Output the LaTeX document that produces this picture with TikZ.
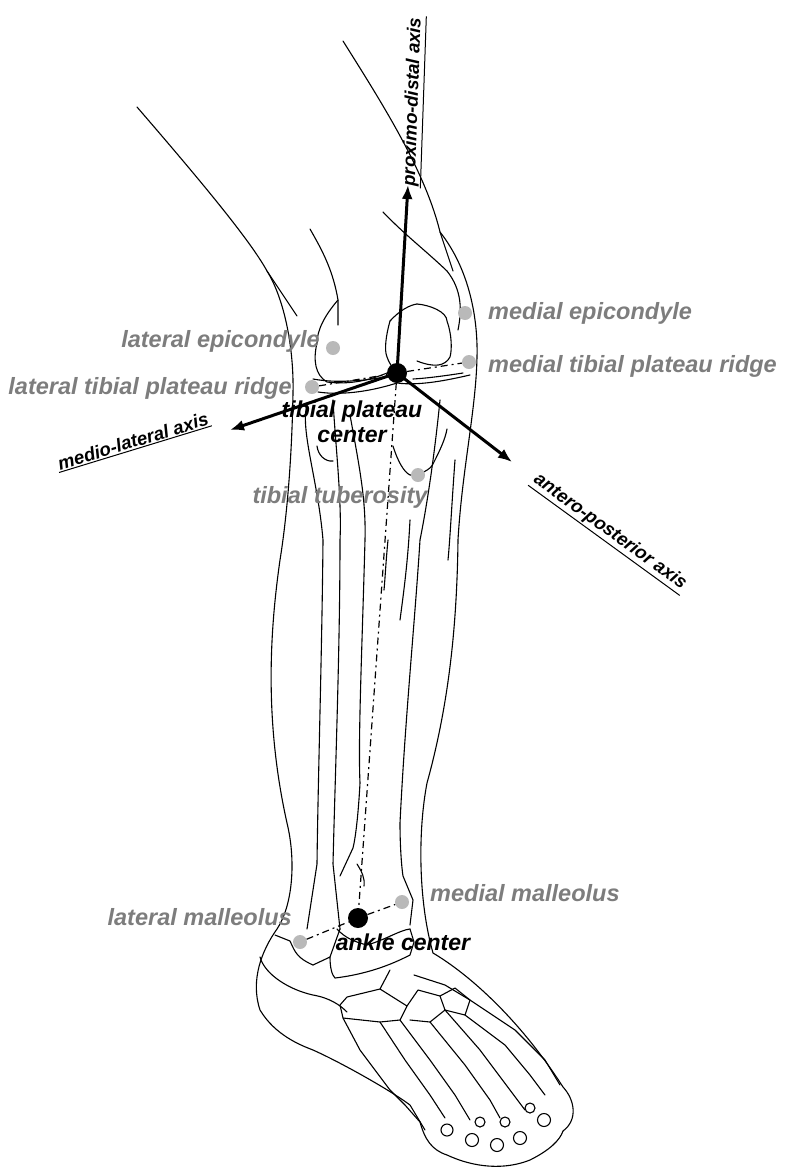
\documentclass[tikz,border=0pt]{standalone}
\usepackage{fontspec}
\setmainfont{Liberation Sans}
\usetikzlibrary{arrows.meta}
\definecolor{lbl}{RGB}{125,125,125}
\definecolor{dotg}{RGB}{185,185,185}
\tikzset{
 outl/.style={line width=1.1pt, line join=round, line cap=round},
 glabel/.style={text=lbl, font=\fontsize{23.5}{26}\selectfont\bfseries\itshape, inner sep=0pt},
 blabel/.style={text=black, font=\fontsize{23}{25}\selectfont\bfseries\itshape, inner sep=0pt, align=center},
 axlabel/.style={text=black, font=\fontsize{18.5}{20}\selectfont\bfseries\itshape, inner sep=1.5pt},
 uline/.style={line width=1pt},
 gdot/.style={circle, fill=dotg, minimum size=14pt, inner sep=0pt},
 bdot/.style={circle, fill=black, minimum size=20pt, inner sep=0pt},
 axis/.style={line width=3pt, -{Latex[length=14pt,width=11pt]}},
 dd/.style={line width=1.2pt, dash pattern=on 7pt off 4pt on 2pt off 4pt},
}
\begin{document}
\begin{tikzpicture}[x=1pt,y=-1pt]
\useasboundingbox (0,0) rectangle (785,1173);
% ---- skin outlines
\draw[outl] (137,107) .. controls (200,180) and (250,240) .. (267,271) -- (297,316);
\draw[outl] (267,271) .. controls (285,300) and (294,350) .. (293,393) .. controls (292,450) and (288,510) .. (280,560)
  .. controls (270,630) and (264,720) .. (287,823) .. controls (296,860) and (293,905) .. (277,929)
  .. controls (262,950) and (250,980) .. (260,1010) .. controls (275,1035) and (300,1045) .. (313,1050)
  .. controls (340,1062) and (390,1090) .. (410,1105) -- (425,1130);
\draw[outl] (343,41) .. controls (380,100) and (425,170) .. (440,232) -- (453,271);
\draw[outl] (440,232) .. controls (470,270) and (478,320) .. (477,357) .. controls (476,410) and (462,470) .. (458,540)
  .. controls (457,620) and (450,700) .. (427,783) .. controls (418,830) and (418,900) .. (433,953)
  .. controls (470,975) and (520,1020) .. (563,1087) .. controls (575,1100) and (578,1120) .. (563,1131);
\draw[outl] (383,212) .. controls (405,235) and (425,250) .. (447,271) .. controls (462,290) and (462,310) .. (458,330);
% knee structures
\draw[outl] (310,229) .. controls (322,250) and (333,270) .. (338,300) -- (338,325);
\draw[outl] (338,300) .. controls (325,315) and (317,330) .. (317,343) .. controls (313,360) and (315,375) .. (327,382) .. controls (350,385) and (370,380) .. (387,373);
\draw[outl] (417,304) .. controls (430,305) and (447,312) .. (447,321) .. controls (452,335) and (452,350) .. (450,357) .. controls (445,366) and (435,368) .. (417,361);
\draw[outl] (390,321) .. controls (386,335) and (384,350) .. (387,357) .. controls (390,365) and (394,370) .. (397,373);
\draw[outl] (390,321) .. controls (400,310) and (410,305) .. (417,304);
\draw[outl] (313,379) .. controls (340,384) and (370,380) .. (397,375);
\draw[outl] (413,379) .. controls (430,378) and (450,375) .. (463,373);
\draw[outl] (318,392) .. controls (345,396) and (375,390) .. (397,383) .. controls (420,386) and (448,380) .. (470,375);
% tibia & fibula
\draw[outl] (307,405) .. controls (300,430) and (318,480) .. (323,540) .. controls (322,650) and (318,780) .. (317,864) -- (307,929);
\draw[outl] (333,400) .. controls (335,440) and (342,500) .. (340,540) .. controls (340,650) and (335,780) .. (333,864) -- (340,929);
\draw[outl] (317,446) .. controls (318,455) and (325,462) .. (333,461);
\draw[outl] (350,415) .. controls (360,470) and (366,500) .. (365,540) .. controls (362,650) and (358,740) .. (360,783) .. controls (358,820) and (355,840) .. (353,848) -- (340,876);
\draw[outl] (357,864) .. controls (362,872) and (365,878) .. (364,886);
\draw[outl] (440,400) .. controls (435,450) and (428,500) .. (420,540) .. controls (415,620) and (405,720) .. (400,823) .. controls (400,850) and (402,870) .. (403,876) -- (413,900) -- (410,925);
\draw[outl] (393,446) .. controls (398,462) and (404,472) .. (410,475) .. controls (420,475) and (430,470) .. (433,464) .. controls (440,450) and (445,440) .. (447,429);
\draw[outl] (455,460) .. controls (452,500) and (450,540) .. (448,560);
\draw[outl] (410,520) .. controls (408,560) and (404,590) .. (400,620);
\draw[outl] (388,540) .. controls (386,560) and (385,580) .. (384,590);
% ankle
\draw[outl] (275,935) -- (290,941) .. controls (295,952) and (297,958) .. (313,965) -- (330,957) -- (340,929);
\draw[outl] (260,957) .. controls (265,975) and (290,990) .. (313,995) .. controls (330,998) and (340,1005) .. (347,1012);
\draw[outl] (337,929) .. controls (345,938) and (355,942) .. (367,945) .. controls (385,940) and (400,930) .. (410,929);
\draw[outl] (330,957) .. controls (330,968) and (332,975) .. (335,978) .. controls (360,975) and (385,968) .. (410,955) -- (414,942) -- (410,929);
% foot bones
\draw[outl] (347,997) -- (380,989) -- (407,1006) -- (400,1020) -- (380,1022) -- (343,1018) -- (340,1005) -- cycle;
\draw[outl] (380,989) -- (390,970);
\draw[outl] (407,1006) -- (418,990) -- (440,996) -- (445,1010) -- (430,1022) -- (410,1020);
\draw[outl] (440,996) -- (455,988) -- (470,1000) -- (465,1015) -- (445,1010);
\draw[outl] (414,975) -- (445,985) -- (470,1000);
\draw[outl] (343,1018) -- (360,1050) -- (390,1090) -- (405,1105) -- (420,1122);
\draw[outl] (380,1022) -- (405,1060) -- (430,1095) -- (445,1118);
\draw[outl] (400,1020) -- (430,1060) -- (455,1095) -- (470,1120);
\draw[outl] (430,1022) -- (465,1065) -- (490,1100) -- (500,1118);
\draw[outl] (445,1010) -- (480,1050) -- (510,1090) -- (525,1110);
\draw[outl] (465,1015) -- (505,1045) -- (530,1075) -- (545,1095);
\draw[outl] (470,1000) -- (515,1030) -- (545,1060) -- (560,1085);
\draw[outl] (420,1122) .. controls (425,1140) and (432,1150) .. (447,1155) .. controls (475,1168) and (505,1170) .. (530,1160) .. controls (550,1150) and (560,1140) .. (563,1131);
\draw[outl] (447,1130) circle[radius=6pt];
\draw[outl] (472,1140) circle[radius=6.5pt];
\draw[outl] (497,1145) circle[radius=6.5pt];
\draw[outl] (520,1138) circle[radius=6.5pt];
\draw[outl] (544,1120) circle[radius=6.5pt];
\draw[outl] (480,1122) circle[radius=5pt];
\draw[outl] (505,1122) circle[radius=5pt];
\draw[outl] (530,1108) circle[radius=5pt];
% ---- landmarks
\node[bdot] (kc) at (397,373) {};
\node[bdot] (ac) at (358,918) {};
\node[gdot] (me) at (465,313) {};
\node[gdot] (le) at (333,348) {};
\node[gdot] (mr) at (469,362) {};
\node[gdot] (lr) at (312,387) {};
\node[gdot] (tt) at (418,475) {};
\node[gdot] (mm) at (402,902) {};
\node[gdot] (lm) at (300,942) {};
\draw[dd] (lr) -- (kc) -- (mr);
\draw[dd] (kc) -- (ac);
\draw[dd] (lm) -- (ac) -- (mm);
% ---- axes
\coordinate (pd) at (408,185);
\coordinate (ml) at (230,430);
\coordinate (ap) at (512,462);
\draw[axis] (kc.center) -- (pd);
\draw[axis] (kc.center) -- (ml);
\draw[axis] (kc.center) -- (ap);
\node[axlabel, rotate=88] (pdl) at (413,102) {proximo-distal axis};
\node[axlabel, rotate=17] (mll) at (133,441) {medio-lateral axis};
\node[axlabel, rotate=-36] (apl) at (610,532) {antero-posterior axis};
\draw[uline] (pdl.south west) -- (pdl.south east);
\draw[uline] (mll.south west) -- (mll.south east);
\draw[uline] (apl.south west) -- (apl.south east);
% ---- labels
\node[glabel, anchor=west] (l1) at (488,313) {medial epicondyle};
\node[glabel, anchor=west] (l2) at (488,366) {medial tibial plateau ridge};
\node[glabel, anchor=east] (l3) at (320,341) {lateral epicondyle};
\node[glabel, anchor=east] (l4) at (292,388) {lateral tibial plateau ridge};
\node[blabel] (l5) at (352,422) {tibial plateau\\center};
\node[glabel] (l6) at (340,497) {tibial tuberosity};
\node[glabel, anchor=west] (l7) at (430,893) {medial malleolus};
\node[glabel, anchor=east] (l8) at (292,917) {lateral malleolus};
\node[blabel] (l9) at (403,942) {ankle center};
\end{tikzpicture}
\end{document}
